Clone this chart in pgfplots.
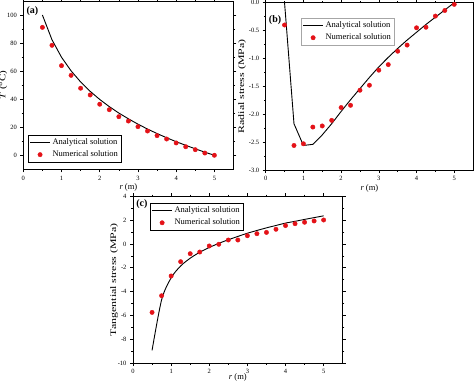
\documentclass[border=0pt]{standalone}
\usepackage{pgfplots}
\pgfplotsset{compat=1.18}
\usepackage{fontspec}
\setmainfont{Liberation Serif}
\definecolor{ptred}{RGB}{228,18,24}
\tikzset{plabel/.style={anchor=north west, font=\bfseries\fontsize{10}{11}\selectfont, inner sep=1pt}}
\pgfplotsset{
  common/.style={
    scale only axis,
    axis line style={line width=0.6pt},
    tick style={line width=0.5pt, black},
    tick align=outside,
    major tick length=3pt,
    minor tick length=1.6pt,
    minor x tick num=1,
    minor y tick num=1,
    xmin=0, xmax=5.5,
    xtick={0,1,2,3,4,5},
    xlabel={\textit{r} (m)},
    tick label style={font=\fontsize{6.5}{7}\selectfont},
    label style={font=\fontsize{8.5}{9}\selectfont},
    xlabel style={yshift=3pt},
    /pgf/number format/assume math mode=true,
    legend style={font=\fontsize{8.5}{9}\selectfont, inner sep=1.5pt, row sep=1pt,
      legend cell align=left},
    legend image code/.code={
      \draw[mark repeat=2,mark phase=2,#1]
        plot coordinates {(0pt,0pt) (10pt,0pt) (20pt,0pt)};},
  },
  ana/.style={black, line width=0.9pt, no markers},
  num/.style={only marks, mark=*, mark size=2.2pt, ptred, mark options={draw=ptred, fill=ptred}},
}
\begin{document}
\begin{tikzpicture}
\path[use as bounding box] (0pt,0pt) rectangle (474pt,384pt);
% (a)
\begin{axis}[common, at={(23.3pt,214.7pt)}, anchor=south west, width=210.2pt, height=168.3pt,
  ymin=-10, ymax=110, ytick={0,20,40,60,80,100},
  ylabel={\textit{T} (°C)}, ylabel style={yshift=-7pt, xscale=1.3},
  legend style={at={(0.022,0.043)}, anchor=south west, draw=black}]
\addplot[ana] coordinates {(0.5,100) (0.75,82.4) (1,69.9) (1.25,60.2) (1.5,52.3) (1.75,45.6) (2,39.8) (2.25,34.7) (2.5,30.1) (2.75,26.0) (3,22.2) (3.25,18.7) (3.5,15.5) (3.75,12.5) (4,9.7) (4.25,7.1) (4.5,4.6) (4.75,2.2) (5,0)};
\addlegendentry{Analytical solution}
\addplot[num] coordinates {(0.5,91.2) (0.75,78.4) (1,63.9) (1.25,57.0) (1.5,47.8) (1.75,43.0) (2,36.4) (2.25,32.5) (2.5,27.5) (2.75,24.4) (3,20.4) (3.25,17.3) (3.5,14.0) (3.75,11.6) (4,8.8) (4.25,6.1) (4.5,4.0) (4.75,1.6) (5,0)};
\addlegendentry{Numerical solution}
\node[plabel] at (rel axis cs:0.01,0.975) {(a)};
\end{axis}
% (b)
\begin{axis}[common, at={(265.7pt,214pt)}, anchor=south west, width=207.4pt, height=167.3pt,
  ymin=-3, ymax=0, ytick={-3,-2.5,-2,-1.5,-1,-0.5,0},
  yticklabel style={/pgf/number format/.cd, fixed, fixed zerofill, precision=1},
  ylabel={Radial stress (MPa)}, ylabel style={yshift=-4pt, xscale=1.4},
  legend style={at={(0.17,0.909)}, anchor=north west, draw=black!35}]
\addplot[ana] coordinates {(0.5,0) (0.75,-2.17) (1,-2.56) (1.25,-2.54) (1.5,-2.37) (1.75,-2.17) (2,-1.95) (2.25,-1.74) (2.5,-1.54) (2.75,-1.34) (3,-1.15) (3.25,-0.98) (3.5,-0.82) (3.75,-0.67) (4,-0.53) (4.25,-0.39) (4.5,-0.26) (4.75,-0.13) (5,0)};
\addlegendentry{Analytical solution}
\addplot[num] coordinates {(0.5,-0.40) (0.75,-2.56) (1,-2.53) (1.25,-2.23) (1.5,-2.21) (1.75,-2.11) (2,-1.88) (2.25,-1.84) (2.5,-1.57) (2.75,-1.48) (3,-1.21) (3.25,-1.11) (3.5,-0.87) (3.75,-0.76) (4,-0.45) (4.25,-0.44) (4.5,-0.24) (4.75,-0.14) (5,-0.03)};
\addlegendentry{Numerical solution}
\node[plabel] at (rel axis cs:0.01,0.93) {(b)};
\end{axis}
% (c)
\begin{axis}[common, at={(133pt,21pt)}, anchor=south west, width=209.7pt, height=166.7pt,
  ymin=-10, ymax=4, ytick={-10,-8,-6,-4,-2,0,2,4},
  xlabel style={yshift=4.5pt},
  ylabel={Tangential stress (MPa)}, ylabel style={yshift=-7pt, xscale=1.4},
  legend style={at={(0.081,0.96)}, anchor=north west, draw=black}]
\addplot[ana, smooth] coordinates {(0.5,-8.94) (0.75,-4.7) (1,-2.85) (1.25,-1.85) (1.5,-1.2) (1.75,-0.7) (2,-0.3) (2.25,0.05) (2.5,0.35) (2.75,0.63) (3,0.9) (3.25,1.13) (3.5,1.35) (3.75,1.55) (4,1.75) (4.25,1.9) (4.5,2.06) (4.75,2.21) (5,2.36)};
\addlegendentry{Analytical solution}
\addplot[num] coordinates {(0.5,-5.75) (0.75,-4.35) (1,-2.69) (1.25,-1.49) (1.5,-0.82) (1.75,-0.68) (2,-0.17) (2.25,-0.03) (2.5,0.33) (2.75,0.33) (3,0.69) (3.25,0.86) (3.5,0.97) (3.75,1.23) (4,1.54) (4.25,1.70) (4.5,1.82) (4.75,1.93) (5,2.01)};
\addlegendentry{Numerical solution}
\node[plabel] at (rel axis cs:0.01,0.985) {(c)};
\end{axis}
\end{tikzpicture}
\end{document}
